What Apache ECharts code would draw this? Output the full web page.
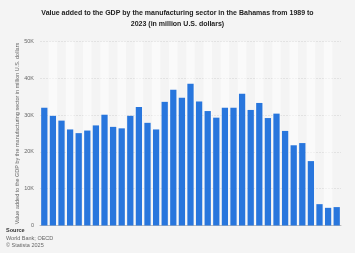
<!DOCTYPE html>
<html><head><meta charset="utf-8">
<script src="https://cdn.jsdelivr.net/npm/echarts@6/dist/echarts.min.js"></script>
<style>html,body{margin:0;padding:0;background:#f4f4f4;}#c{width:355px;height:253px;}</style>
</head><body><div id="c"></div>
<script>
const years = [];
for (let y = 1989; y <= 2023; y++) years.push(String(y));
const values = [32.0, 29.8, 28.5, 26.1, 25.1, 25.8, 27.2, 30.1, 26.8, 26.4,
  29.8, 32.2, 27.9, 26.1, 33.6, 36.9, 34.7, 38.5, 33.7, 31.1,
  29.3, 32.0, 32.0, 35.8, 31.4, 33.3, 29.2, 30.4, 25.7, 21.8,
  22.4, 17.5, 5.8, 4.8, 5.0];
const tickLabels = ['0', '10K', '20K', '30K', '40K', '50K'];
const chart = echarts.init(document.getElementById('c'), null, {renderer: 'canvas'});
chart.setOption({
  backgroundColor: '#f4f4f4',
  animation: false,
  title: {
    text: 'Value added to the GDP by the manufacturing sector in the Bahamas from 1989 to\n2023 (in million U.S. dollars)',
    left: 'center', top: 3,
    textStyle: {fontFamily: 'Liberation Sans, Arial', fontSize: 7, fontWeight: 'bold', color: '#222', lineHeight: 10.5, align: 'center'}
  },
  graphic: [
    {type: 'text', left: 6, top: 227, style: {text: 'Source', font: 'bold 5.5px Liberation Sans, Arial', fill: '#333'}},
    {type: 'text', left: 6, top: 235, style: {text: 'World Bank; OECD', font: '5.5px Liberation Sans, Arial', fill: '#666'}},
    {type: 'text', left: 6, top: 242, style: {text: '\u00a9 Statista 2025', font: '5.5px Liberation Sans, Arial', fill: '#666'}}
  ],
  grid: {left: 40, right: 14, top: 41.5, bottom: 27.5, containLabel: false},
  xAxis: {
    type: 'category', data: years,
    axisLine: {show: true, lineStyle: {color: '#bbb', width: 1}},
    axisTick: {show: false, interval: 0}, axisLabel: {show: false, interval: 0},
    splitArea: {show: true, interval: 0, areaStyle: {color: ['rgba(0,0,0,0)', 'rgba(255,255,255,0.5)']}}
  },
  yAxis: {
    type: 'value', min: 0, max: 50, interval: 10,
    name: 'Value added to the GDP by the manufacturing sector in million U.S. dollars',
    nameLocation: 'middle', nameGap: 20, nameMoveOverlap: false,
    nameTextStyle: {fontFamily: 'Liberation Sans, Arial', fontSize: 5.5, color: '#666'},
    axisLabel: {fontFamily: 'Liberation Sans, Arial', fontSize: 5.5, color: '#666', margin: 6,
      formatter: function (v) { return tickLabels[Math.round(v / 10)]; }},
    axisLine: {show: false}, axisTick: {show: false},
    splitLine: {lineStyle: {color: '#ddd', type: [2, 1], width: 0.8}}
  },
  series: [{
    type: 'bar', data: values, barCategoryGap: '27%',
    itemStyle: {color: '#2876dd'}
  }]
});
</script></body></html>
